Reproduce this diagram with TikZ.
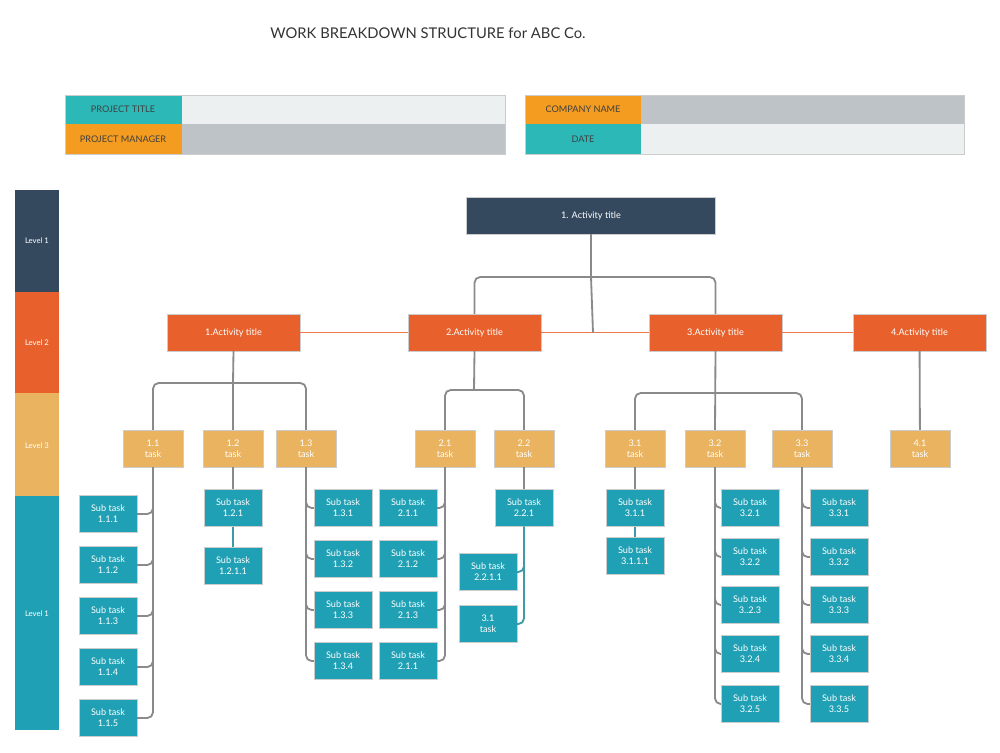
\documentclass[tikz,border=0pt]{standalone}
\usepackage{fontspec}
\setmainfont{Lato}
\definecolor{dark}{HTML}{34495E}
\definecolor{lvtwo}{HTML}{E8612C}
\definecolor{lvthree}{HTML}{E9B35F}
\definecolor{tealb}{HTML}{20A0B4}
\definecolor{hteal}{HTML}{2DB8B8}
\definecolor{horange}{HTML}{F39C1F}
\definecolor{light}{HTML}{ECF0F1}
\definecolor{greyc}{HTML}{BDC3C7}
\definecolor{conn}{HTML}{8A8A8A}
\begin{document}
\begin{tikzpicture}[x=0.025cm,y=-0.025cm,
  box/.style={draw=white!80!black,line width=0.3pt,inner sep=0,align=center,text=white,font=\fontsize{6.5}{8}\selectfont},
  root/.style={box,fill=dark,minimum width=249*0.025cm,minimum height=37*0.025cm},
  act/.style={box,fill=lvtwo,minimum width=133*0.025cm,minimum height=37*0.025cm},
  task/.style={box,fill=lvthree,minimum width=60*0.025cm,minimum height=37*0.025cm},
  sub/.style={box,fill=tealb,minimum width=58*0.025cm,minimum height=37*0.025cm},
  hdr/.style={inner sep=0,font=\fontsize{6.5}{8}\selectfont,text=black!75},
  ln/.style={draw=conn,line width=1.3pt,rounded corners=4},
  lvl/.style={inner sep=0,text=white,font=\fontsize{5.5}{7}\selectfont}]
\useasboundingbox (0,0) rectangle (1000,752);
\node[font=\fontsize{10.5}{12}\selectfont,text=black!80] (title) at (428,33) {WORK BREAKDOWN STRUCTURE for ABC Co.};
% header tables
\fill[hteal] (65,95) rectangle (182,124); \fill[light] (182,95) rectangle (505,124);
\fill[horange] (65,124) rectangle (182,154); \fill[greyc] (182,124) rectangle (505,154);
\draw[white!80!black,line width=0.3pt] (65,95) rectangle (505,154);
\node[hdr] (pt) at (123,109.5) {PROJECT TITLE};
\node[hdr] (pm) at (123,139) {PROJECT MANAGER};
\fill[horange] (525,95) rectangle (641,124); \fill[greyc] (641,95) rectangle (964,124);
\fill[hteal] (525,124) rectangle (641,154); \fill[light] (641,124) rectangle (964,154);
\draw[white!80!black,line width=0.3pt] (525,95) rectangle (964,154);
\node[hdr] (cn) at (583,109.5) {COMPANY NAME};
\node[hdr] (dt) at (583,139) {DATE};
% level bar
\fill[dark] (15,190) rectangle (59,292);
\fill[lvtwo] (15,292) rectangle (59,393);
\fill[lvthree] (15,393) rectangle (59,496);
\fill[tealb] (15,496) rectangle (59,730);
\node[lvl] (l1) at (37,241) {Level 1};
\node[lvl] (l2) at (37,343) {Level 2};
\node[lvl] (l3) at (37,446) {Level 3};
\node[lvl] (l4) at (37,614) {Level 1};
% nodes
\node[root] (r) at (591,215.5) {1. Activity title};
\node[act] (a1) at (233.5,332.5) {1.Activity title};
\node[act] (a2) at (474.5,332.5) {2.Activity title};
\node[act] (a3) at (715.5,332.5) {3.Activity title};
\node[act] (a4) at (919.5,332.5) {4.Activity title};
\coordinate (mid) at (593,332.5);
\draw[lvtwo!85!white,line width=1.3pt] (a1) -- (a2) (a2) -- (a3) (a3) -- (a4);
\draw[ln] (r.south) -- (591,277) -- (mid);
\draw[ln] (a2.north) |- (591,277) -| (a3.north);
\foreach \n/\x/\t in {t11/153/1.1,t12/233/1.2,t13/306/1.3,t21/445/2.1,t22/524/2.2,t31/635/3.1,t32/715/3.2,t33/802/3.3,t41/920/4.1}
  \node[task] (\n) at (\x,448.5) {\t\\task};
\draw[ln] (a1.south) -- (233,383);
\draw[ln] (t11.north) |- (233,383) -| (t13.north);
\draw[ln] (233,383) -- (t12.north);
\draw[ln] (a2.south) -- (474,390);
\draw[ln] (t21.north) |- (474,390) -| (t22.north);
\draw[ln] (a3.south) -- (t32.north);
\draw[ln] (t31.north) |- (715,393) -| (t33.north);
\draw[ln] (a4) -- (t41);
% 1.1
\foreach \i/\y in {1/514,2/565,3/616,4/667,5/718} {
  \node[sub] (s11\i) at (108,\y) {Sub task\\1.1.\i};
  \draw[ln] (t11.south) |- (s11\i.east);}
% 1.2
\node[sub] (s121) at (233,508) {Sub task\\1.2.1};
\node[sub] (s1211) at (233,566) {Sub task\\1.2.1.1};
\draw[ln] (t12) -- (s121); \draw[ln,draw=tealb!70!conn] (s121) -- (s1211);
% 1.3 and 2.1
\foreach \i/\y/\b in {1/508/1,2/559/2,3/610/3,4/661/1} {
  \node[sub] (s13\i) at (343,\y) {Sub task\\1.3.\i};
  \draw[ln] (t13.south) |- (s13\i.west);
  \node[sub] (s21\i) at (408,\y) {Sub task\\2.1.\b};
  \draw[ln] (t21.south) |- (s21\i.east);}
% 2.2
\node[sub] (s221) at (524,508) {Sub task\\2.2.1};
\node[sub] (s2211) at (488,572) {Sub task\\2.2.1.1};
\node[sub] (s31t) at (488,624) {3.1\\task};
\draw[ln] (t22) -- (s221);
\draw[ln,draw=tealb!70!conn] (s221.south) |- (s2211.east);
\draw[ln,draw=tealb!70!conn] (s221.south) |- (s31t.east);
% 3.1
\node[sub] (s311) at (635,508) {Sub task\\3.1.1};
\node[sub] (s3111) at (635,556) {Sub task\\3.1.1.1};
\draw[ln] (t31) -- (s311); \draw[ln,draw=tealb!70!conn] (s311) -- (s3111);
% 3.2 and 3.3
\foreach \i/\y/\l in {1/508/3.2.1,2/557/3.2.2,3/605/3..2.3,4/654/3.2.4,5/704/3.2.5} {
  \node[sub] (s32\i) at (750,\y) {Sub task\\\l};
  \draw[ln] (t32.south) |- (s32\i.west);
  \node[sub] (s33\i) at (839,\y) {Sub task\\3.3.\i};
  \draw[ln] (t33.south) |- (s33\i.west);}
\end{tikzpicture}
\end{document}
